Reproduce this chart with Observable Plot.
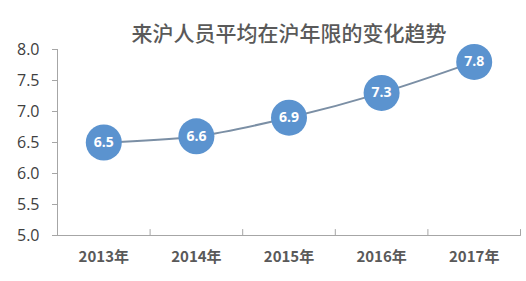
<!DOCTYPE html>
<html>
<head>
<meta charset="utf-8">
<script src="https://cdn.jsdelivr.net/npm/d3@7"></script>
<script src="https://cdn.jsdelivr.net/npm/@observablehq/plot@0.6"></script>
<style>
  html, body { margin: 0; padding: 0; background: #fff; }
</style>
</head>
<body>
<div id="chart"></div>
<script>
const title = "来沪人员平均在沪年限的变化趋势";
const years = [2013, 2014, 2015, 2016, 2017];
const values = [6.5, 6.6, 6.9, 7.3, 7.8];
const yTicks = [5.0, 5.5, 6.0, 6.5, 7.0, 7.5, 8.0];

const data = years.map((year, i) => ({year, value: values[i]}));
const boundaries = years.map(y => y + 0.5);

const tickShape = {
  draw(context, l) {
    context.moveTo(0, 0);
    context.lineTo(0, -l);
  }
};

const chart = Plot.plot({
  width: 526,
  height: 281,
  marginLeft: 57,
  marginRight: 6,
  marginTop: 49,
  marginBottom: 46,
  style: {background: "#fff", overflow: "visible"},
  x: {domain: [years[0] - 0.5, years[years.length - 1] + 0.5]},
  y: {domain: [5, 8]},
  marks: [
    Plot.axisY({
      ticks: yTicks,
      tickFormat: d3.format(".1f"),
      tickSize: 5,
      tickPadding: 13,
      stroke: "#a6a6a6",
      fill: "#404040",
      fontSize: 16,
      fontFamily: "Open Sans, sans-serif",
      label: null
    }),
    Plot.axisX({
      ticks: years,
      tickFormat: d => d + "年",
      tickSize: 0,
      tickPadding: 16,
      fill: "#595959",
      fontSize: 15,
      fontWeight: "bold",
      fontFamily: "Noto Sans CJK SC, sans-serif",
      label: null
    }),
    Plot.ruleX([years[0] - 0.5], {y1: 5, y2: 8, stroke: "#a6a6a6"}),
    Plot.ruleY([5], {stroke: "#a6a6a6"}),
    Plot.vector(boundaries, {x: d => d, y: 5, length: 6, rotate: 0, anchor: "start", shape: tickShape, stroke: "#a6a6a6", strokeWidth: 1}),
    Plot.line(data, {x: "year", y: "value", curve: "catmull-rom", stroke: "#7b8fa5", strokeWidth: 2}),
    Plot.dot(data, {x: "year", y: "value", r: 18, fill: "#5b93cf", stroke: "none"}),
    Plot.text(data, {x: "year", y: "value", text: d => d3.format(".1f")(d.value), fill: "white", fontSize: 14, fontWeight: "bold", fontFamily: "Open Sans, sans-serif"}),
    Plot.text([title], {frameAnchor: "top", dy: -23, text: d => d, fontSize: 21, fontWeight: 500, fill: "#595959", fontFamily: "Noto Sans CJK SC, sans-serif"})
  ]
});
document.getElementById("chart").appendChild(chart);
</script>
</body>
</html>
